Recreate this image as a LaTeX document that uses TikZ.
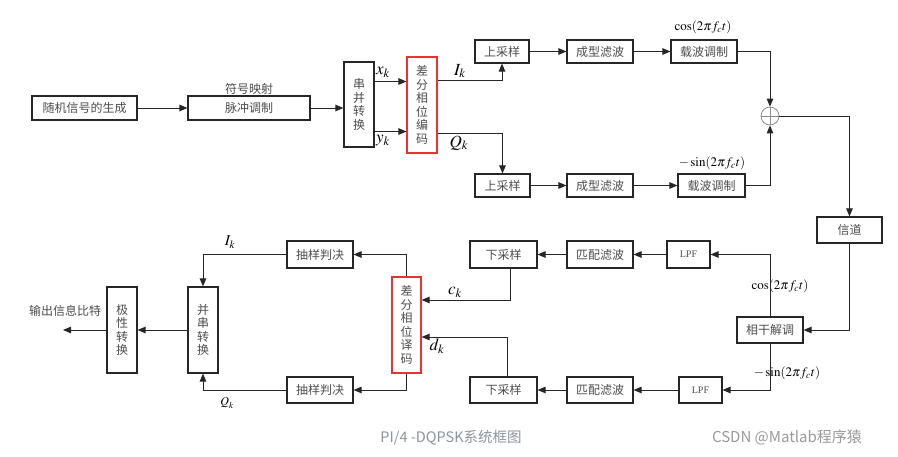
\documentclass[tikz,border=0pt]{standalone}
\usepackage{mathptmx}
\usepackage{fontspec}
\setmainfont{Liberation Serif}
\newfontfamily\cjk{Noto Sans CJK SC}
\usetikzlibrary{arrows.meta}
\definecolor{encred}{RGB}{235,50,50}
\definecolor{capgray}{RGB}{140,148,158}

\begin{document}
\begin{tikzpicture}[x=1pt,y=-1pt,
  line width=1pt, draw=black!85,
  >={Triangle[length=8pt,width=6.5pt]},
  blk/.style={draw, line width=1.1pt, inner sep=0pt, font=\cjk\fontsize{12}{13.5}\selectfont, text=black!70, align=center},
  redblk/.style={blk, draw=encred},
  lab/.style={inner sep=0pt, font=\fontsize{13}{15}\selectfont}]
\useasboundingbox (0,0) rectangle (898,456);
% transmitter
\node[blk, minimum width=105pt, minimum height=24pt] (gen) at (84.5,108) {随机信号的生成};
\node[blk, minimum width=122pt, minimum height=24pt] (pulse) at (249,108) {脉冲调制};
\node[lab, font=\cjk\fontsize{12}{13.5}\selectfont, text=black!70] at (249,89) {符号映射};
\node[blk, minimum width=30pt, minimum height=85pt] (sp) at (359,104.5) {串\\并\\转\\换};
\node[redblk, minimum width=30pt, minimum height=96pt] (enc) at (422,105) {差\\分\\相\\位\\编\\码};
\node[blk, minimum width=54pt, minimum height=23pt] (up1) at (502,51.5) {上采样};
\node[blk, minimum width=66pt, minimum height=23pt] (sh1) at (600,51.5) {成型滤波};
\node[blk, minimum width=66pt, minimum height=23pt] (mod1) at (704,51.5) {载波调制};
\node[blk, minimum width=55pt, minimum height=23pt] (up2) at (502.5,185.5) {上采样};
\node[blk, minimum width=66pt, minimum height=23pt] (sh2) at (600,185.5) {成型滤波};
\node[blk, minimum width=67pt, minimum height=23pt] (mod2) at (711.5,185.5) {载波调制};
\node[draw=black!45, line width=0.8pt, circle, minimum size=18pt, inner sep=0pt] (add) at (770,116) {};
\draw[black!45, line width=0.8pt] (add.north) -- (add.south) (add.west) -- (add.east);
\node[blk, minimum width=65pt, minimum height=26pt] (chan) at (849.5,230) {信道};
\node[lab] at (703,27) {$\cos(2\pi f_c t)$};
\node[lab] at (712,163) {$-\sin(2\pi f_c t)$};
\node[lab, font=\fontsize{17}{19}\selectfont] at (383,72) {$x_k$};
\node[lab, font=\fontsize{17}{19}\selectfont] at (383,141) {$y_k$};
\node[lab, font=\fontsize{17}{19}\selectfont] at (460,71) {$I_k$};
\node[lab, font=\fontsize{17}{19}\selectfont] at (459,143) {$Q_k$};
\draw[->] (gen) -- (pulse);
\draw[->] (pulse.east) -- (pulse.east -| sp.west);
\draw[->] ([yshift=23pt]sp.east) -- ([yshift=23pt]sp.east -| enc.west);
\draw[->] ([yshift=-27pt]sp.east) -- ([yshift=-27pt]sp.east -| enc.west);
\draw[->] ([yshift=25pt]enc.east) -| (up1.south);
\draw[->] ([yshift=-28pt]enc.east) -| (up2.north);
\draw[->] (up1) -- (sh1);
\draw[->] (sh1) -- (mod1);
\draw[->] (up2) -- (sh2);
\draw[->] (sh2) -- (mod2);
\draw[->] (mod1.east) -| (add.north);
\draw[->] (mod2.east) -| (add.south);
\draw[->] (add.east) -| (chan.north);
% receiver
\node[blk, minimum width=66pt, minimum height=26pt] (coh) at (770,330) {相干解调};
\node[blk, minimum width=43pt, minimum height=27pt, font=\fontsize{10}{12}\selectfont] (lpf1) at (688.5,254.5) {LPF};
\node[blk, minimum width=66pt, minimum height=27pt] (mf1) at (600,254.5) {匹配滤波};
\node[blk, minimum width=67pt, minimum height=27pt] (ds1) at (503.5,254.5) {下采样};
\node[blk, minimum width=43pt, minimum height=26pt, font=\fontsize{10}{12}\selectfont] (lpf2) at (700.5,390) {LPF};
\node[blk, minimum width=66pt, minimum height=26pt] (mf2) at (600,390) {匹配滤波};
\node[blk, minimum width=67pt, minimum height=26pt] (ds2) at (503.5,390) {下采样};
\node[redblk, minimum width=29pt, minimum height=96pt] (dec) at (406.5,325) {差\\分\\相\\位\\译\\码};
\node[blk, minimum width=66pt, minimum height=27pt] (sj1) at (320,254.5) {抽样判决};
\node[blk, minimum width=66pt, minimum height=26pt] (sj2) at (320,390) {抽样判决};
\node[blk, minimum width=30pt, minimum height=86pt] (ps) at (203,330) {并\\串\\转\\换};
\node[blk, minimum width=30pt, minimum height=86pt] (pol) at (122,330) {极\\性\\转\\换};
\coordinate (out) at (63,330);
\node[lab, font=\cjk\fontsize{12}{13.5}\selectfont, text=black!70] at (65,311) {输出信息比特};
\node[lab] at (780,286) {$\cos(2\pi f_c t)$};
\node[lab] at (787,373) {$-\sin(2\pi f_c t)$};
\node[lab, font=\fontsize{17}{19}\selectfont] at (455,292) {$c_k$};
\node[lab, font=\fontsize{17}{19}\selectfont] at (437,346) {$d_k$};
\node[lab, font=\fontsize{15}{17}\selectfont] at (230,242) {$I_k$};
\node[lab, font=\fontsize{12}{14}\selectfont] at (227,403) {$Q_k$};
\draw[->] (chan.south) |- (coh.east);
\draw[->] (coh.north) |- (lpf1.east);
\draw[->] (coh.south) |- (lpf2.east);
\draw[->] (lpf1) -- (mf1);
\draw[->] (mf1) -- (ds1);
\draw[->] (lpf2) -- (mf2);
\draw[->] (mf2) -- (ds2);
\draw[->] ([xshift=6.5pt]ds1.south) |- ([yshift=25pt]dec.east);
\draw[->] ([xshift=3.5pt]ds2.north) |- ([yshift=-12pt]dec.east);
\draw[->] (dec.north) |- (sj1.east);
\draw[->] (dec.south) |- (sj2.east);
\draw[->] (sj1.west) -| (ps.north);
\draw[->] (sj2.west) -| (ps.south);
\draw[->] (ps) -- (pol);
\draw[->] (pol.west) -- (out);
% caption
\node[lab, font=\cjk\fontsize{14.5}{16}\selectfont, text=capgray] at (451,438) {PI/4 -DQPSK系统框图};
\node[lab, font=\cjk\fontsize{15}{17}\selectfont, text=black!40] at (787,437) {CSDN @Matlab程序猿};
\end{tikzpicture}
\end{document}
